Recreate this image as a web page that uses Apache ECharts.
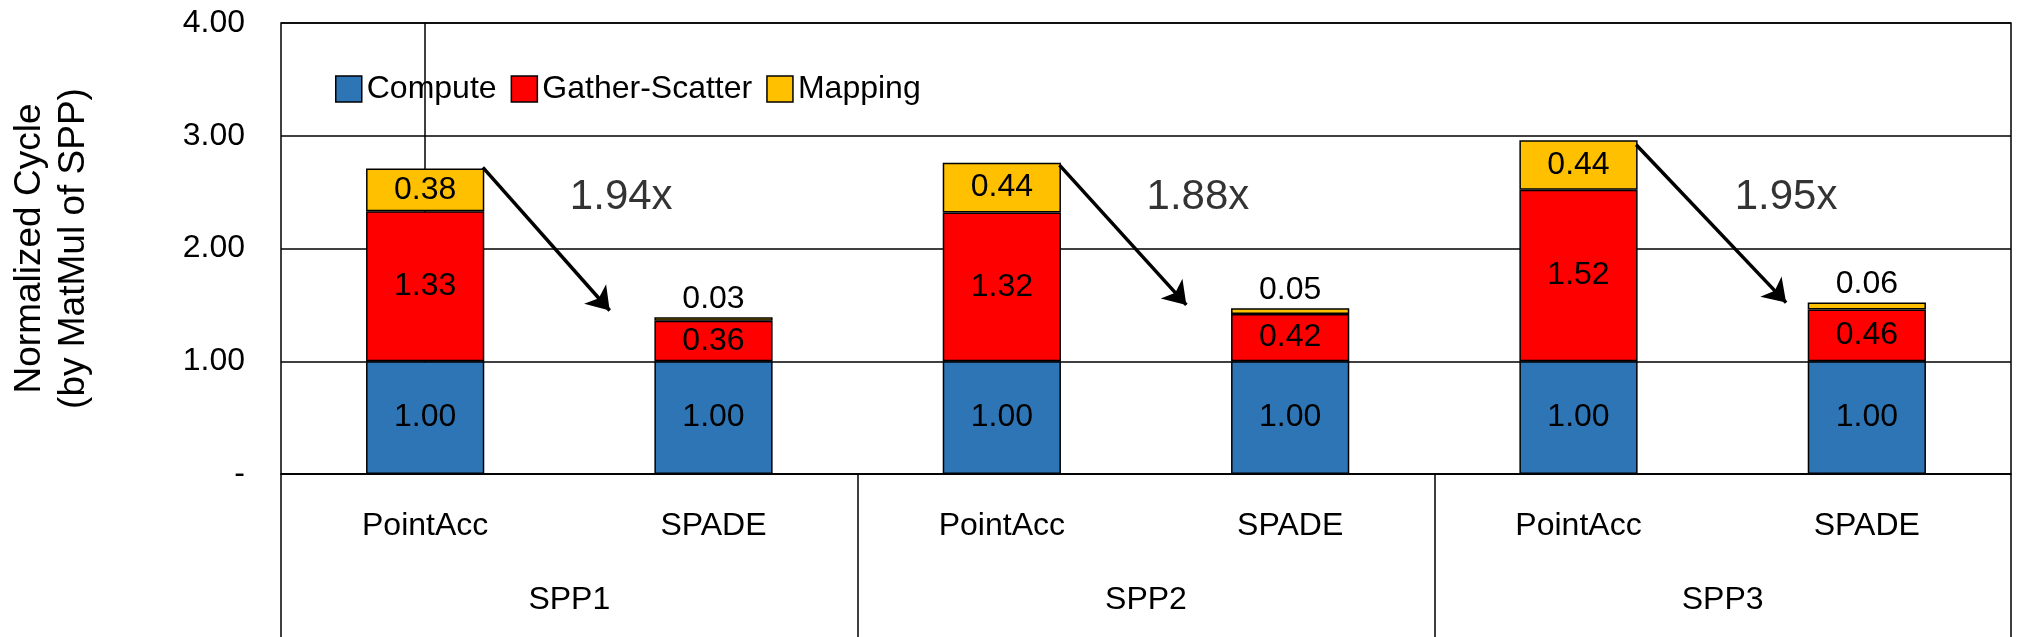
<!DOCTYPE html><html><head><meta charset="utf-8">
<script src="https://cdn.jsdelivr.net/npm/echarts@6/dist/echarts.min.js"></script>
<style>html,body{margin:0;padding:0;background:#fff}#c{width:2021px;height:637px}</style></head><body><div id="c"></div>
<script>
const categories=['PointAcc','SPADE','PointAcc','SPADE','PointAcc','SPADE'];
const groups=['SPP1','SPP2','SPP3'];
const compute=[1.00,1.00,1.00,1.00,1.00,1.00];
const gatherScatter=[1.33,0.36,1.32,0.42,1.52,0.46];
const mapping=[0.38,0.03,0.44,0.05,0.44,0.06];
const arrows=[[[0.20,2.72],[0.64,1.45]],[[2.20,2.74],[2.64,1.50]],[[4.20,2.92],[4.72,1.52]]];
const speedups=[['1.94x',0.68,2.45],['1.88x',2.68,2.45],['1.95x',4.72,2.45]];
const yTicks=['-','1.00','2.00','3.00','4.00'];
const F='Arial, Liberation Sans, sans-serif';
const FS=32;
const chart=echarts.init(document.getElementById('c'));
const bar=(name,data,color)=>({name,type:'bar',stack:'s',data,barWidth:'41%',
 itemStyle:{color,borderColor:'#000',borderWidth:1.5},
 label:{show:true,position:'inside',color:'#000',fontSize:FS,fontFamily:F,formatter:p=>p.value.toFixed(2)}});
const mapSeries=bar('Mapping',mapping.map((v,i)=>({value:v,label:{position:i%2?'top':'inside',distance:2}})),'#ffc000');
chart.setOption({
 animation:false,
 grid:{left:258,right:10,top:23,bottom:163,show:true,borderColor:'#000',borderWidth:1.5},
 legend:{left:330,top:68,icon:'rect',itemWidth:26,itemHeight:26,itemGap:14,textStyle:{fontSize:FS,fontFamily:F,color:'#000'},
  itemStyle:{borderColor:'#000',borderWidth:1.5},
  data:['Compute','Gather-Scatter','Mapping']},
 xAxis:[
  {type:'category',data:categories,axisLine:{lineStyle:{color:'#000',width:1.5}},axisTick:{show:false},
   axisLabel:{margin:36,fontSize:FS,fontFamily:F,color:'#000'}},
  {type:'category',data:groups,position:'bottom',axisLine:{show:false},
   axisTick:{show:true,length:163,lineStyle:{color:'#000',width:1.5}},
   axisLabel:{margin:110,fontSize:FS,fontFamily:F,color:'#000'}},
  {type:'value',min:-0.5,max:5.5,show:false}
 ],
 yAxis:{type:'value',min:0,max:4,interval:1,
  name:'Normalized Cycle\n(by MatMul of SPP)',nameLocation:'middle',nameGap:185,nameRotate:90,
  nameTextStyle:{fontSize:37,fontFamily:F,color:'#000',lineHeight:44},
  axisLine:{show:true,lineStyle:{color:'#000',width:1.5}},axisTick:{show:false},
  splitLine:{lineStyle:{color:'#000',width:1.5}},
  axisLabel:{margin:36,fontSize:FS,fontFamily:F,color:'#000',formatter:v=>yTicks[Math.round(v)]}},
 series:[
  bar('Compute',compute,'#2e75b6'),
  bar('Gather-Scatter',gatherScatter,'#ff0000'),
  mapSeries,
  {type:'lines',coordinateSystem:'cartesian2d',xAxisIndex:2,symbol:['none','arrow'],symbolSize:22,
   lineStyle:{color:'#000',width:3.5,opacity:1},data:arrows.map(c=>({coords:c})),z:5},
  {type:'scatter',xAxisIndex:2,symbolSize:0,data:speedups.map(s=>({value:[s[1],s[2]],name:s[0]})),
   label:{show:true,position:'inside',formatter:p=>p.name,fontSize:42,fontFamily:F,color:'#000'}}
 ]
});
</script></body></html>
